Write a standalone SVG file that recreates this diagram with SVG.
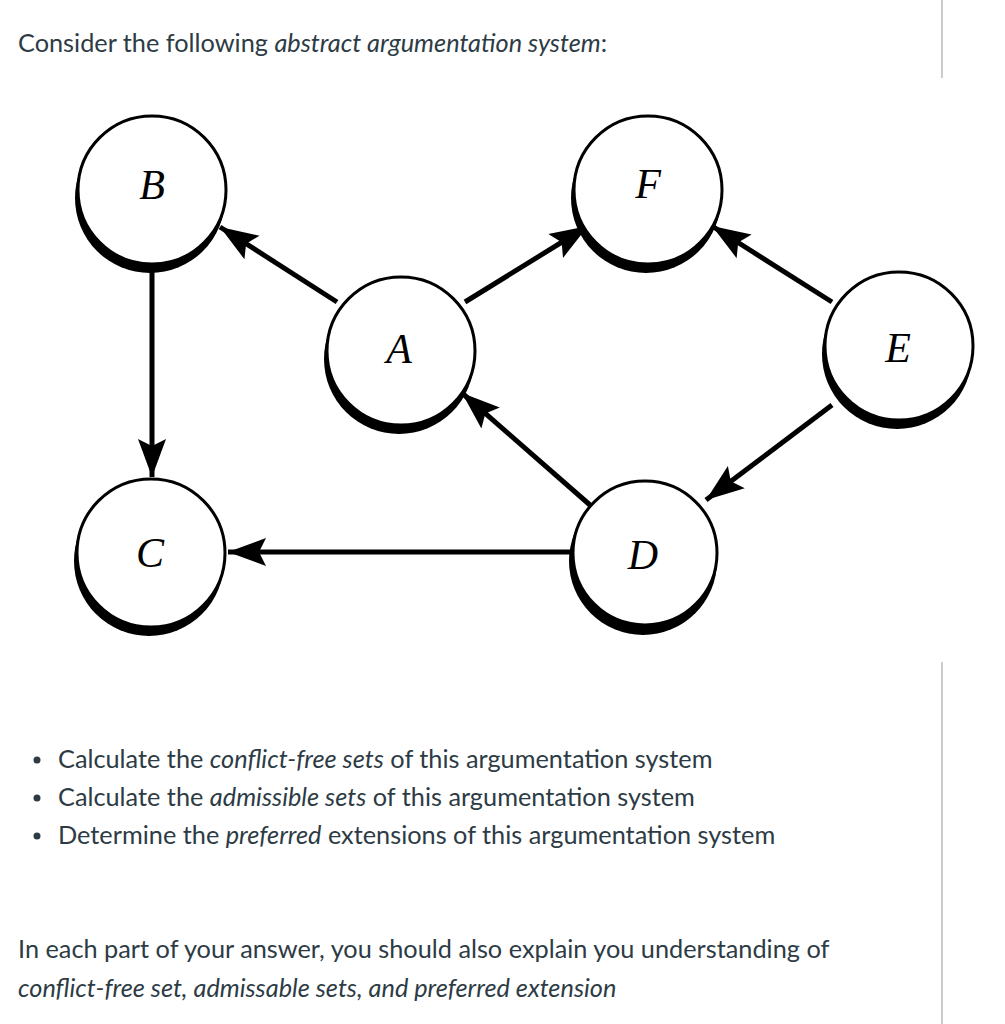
<svg xmlns="http://www.w3.org/2000/svg" width="1005" height="1024" viewBox="0 0 1005 1024">
<defs>
<style>
.t{font-family:Lato,"Open Sans","Liberation Sans",sans-serif;font-size:25.3px;fill:#2d3b45}
.i{font-style:italic}
.lbl{font-family:"Liberation Serif","DejaVu Serif",serif;font-style:italic;font-size:42px;fill:#000;text-anchor:middle}
.sh{fill:#000}
.ci{fill:#fff;stroke:#000;stroke-width:3}
.e{stroke:#000;stroke-width:5;fill:none;marker-end:url(#ah)}
</style>
<marker id="ah" markerUnits="userSpaceOnUse" markerWidth="40" markerHeight="30" viewBox="0 0 40 30" refX="38" refY="15" orient="auto">
<path d="M0,1 L38,15 L0,29 L7,15 Z" fill="#000"/>
</marker>
</defs>
<rect width="1005" height="1024" fill="#fff"/>
<line x1="942" y1="0" x2="942" y2="78" stroke="#c7cdd1" stroke-width="2"/>
<line x1="942" y1="662" x2="942" y2="1024" stroke="#c7cdd1" stroke-width="2"/>
<text class="t" x="18" y="52">Consider the following <tspan class="i">abstract argumentation system</tspan>:</text>
<g id="edges">
<line class="e" x1="337" y1="302" x2="220" y2="227"/>
<line class="e" x1="465" y1="302" x2="588" y2="226"/>
<line class="e" x1="832" y1="302" x2="712" y2="226"/>
<line class="e" x1="832" y1="405" x2="706" y2="500"/>
<line class="e" x1="590" y1="505" x2="462" y2="393"/>
<line class="e" x1="573" y1="552" x2="228" y2="552"/>
<line class="e" x1="152" y1="266" x2="152" y2="477"/>
</g>
<g id="B"><circle class="sh" cx="150" cy="198" r="75"/><circle class="ci" cx="152" cy="190" r="74"/><text class="lbl" x="152" y="199">B</text></g>
<g id="F"><circle class="sh" cx="646" cy="198" r="75"/><circle class="ci" cx="648" cy="190" r="74"/><text class="lbl" x="648" y="198">F</text></g>
<g id="A"><circle class="sh" cx="399" cy="359" r="75"/><circle class="ci" cx="401" cy="351" r="74"/><text class="lbl" x="399" y="363">A</text></g>
<g id="E"><circle class="sh" cx="897" cy="354" r="75"/><circle class="ci" cx="899" cy="346" r="74"/><text class="lbl" x="898" y="362">E</text></g>
<g id="C"><circle class="sh" cx="149" cy="561" r="75"/><circle class="ci" cx="151" cy="553" r="74"/><text class="lbl" x="150" y="567">C</text></g>
<g id="D"><circle class="sh" cx="643" cy="561" r="74"/><circle class="ci" cx="645" cy="553" r="72"/><text class="lbl" x="643" y="569">D</text></g>
<g id="text">
<circle cx="37" cy="760" r="3.5" fill="#2d3b45"/>
<circle cx="37" cy="798" r="3.5" fill="#2d3b45"/>
<circle cx="37" cy="836" r="3.5" fill="#2d3b45"/>
<text class="t" x="58" y="768">Calculate the <tspan class="i">conflict-free sets</tspan> of this argumentation system</text>
<text class="t" x="58" y="806">Calculate the <tspan class="i">admissible sets</tspan> of this argumentation system</text>
<text class="t" x="58" y="844">Determine the <tspan class="i">preferred</tspan> extensions of this argumentation system</text>
<text class="t" x="18" y="958">In each part of your answer, you should also explain you understanding of</text>
<text class="t i" x="18" y="997">conflict-free set, admissable sets, and preferred extension</text>
</g>
</svg>
